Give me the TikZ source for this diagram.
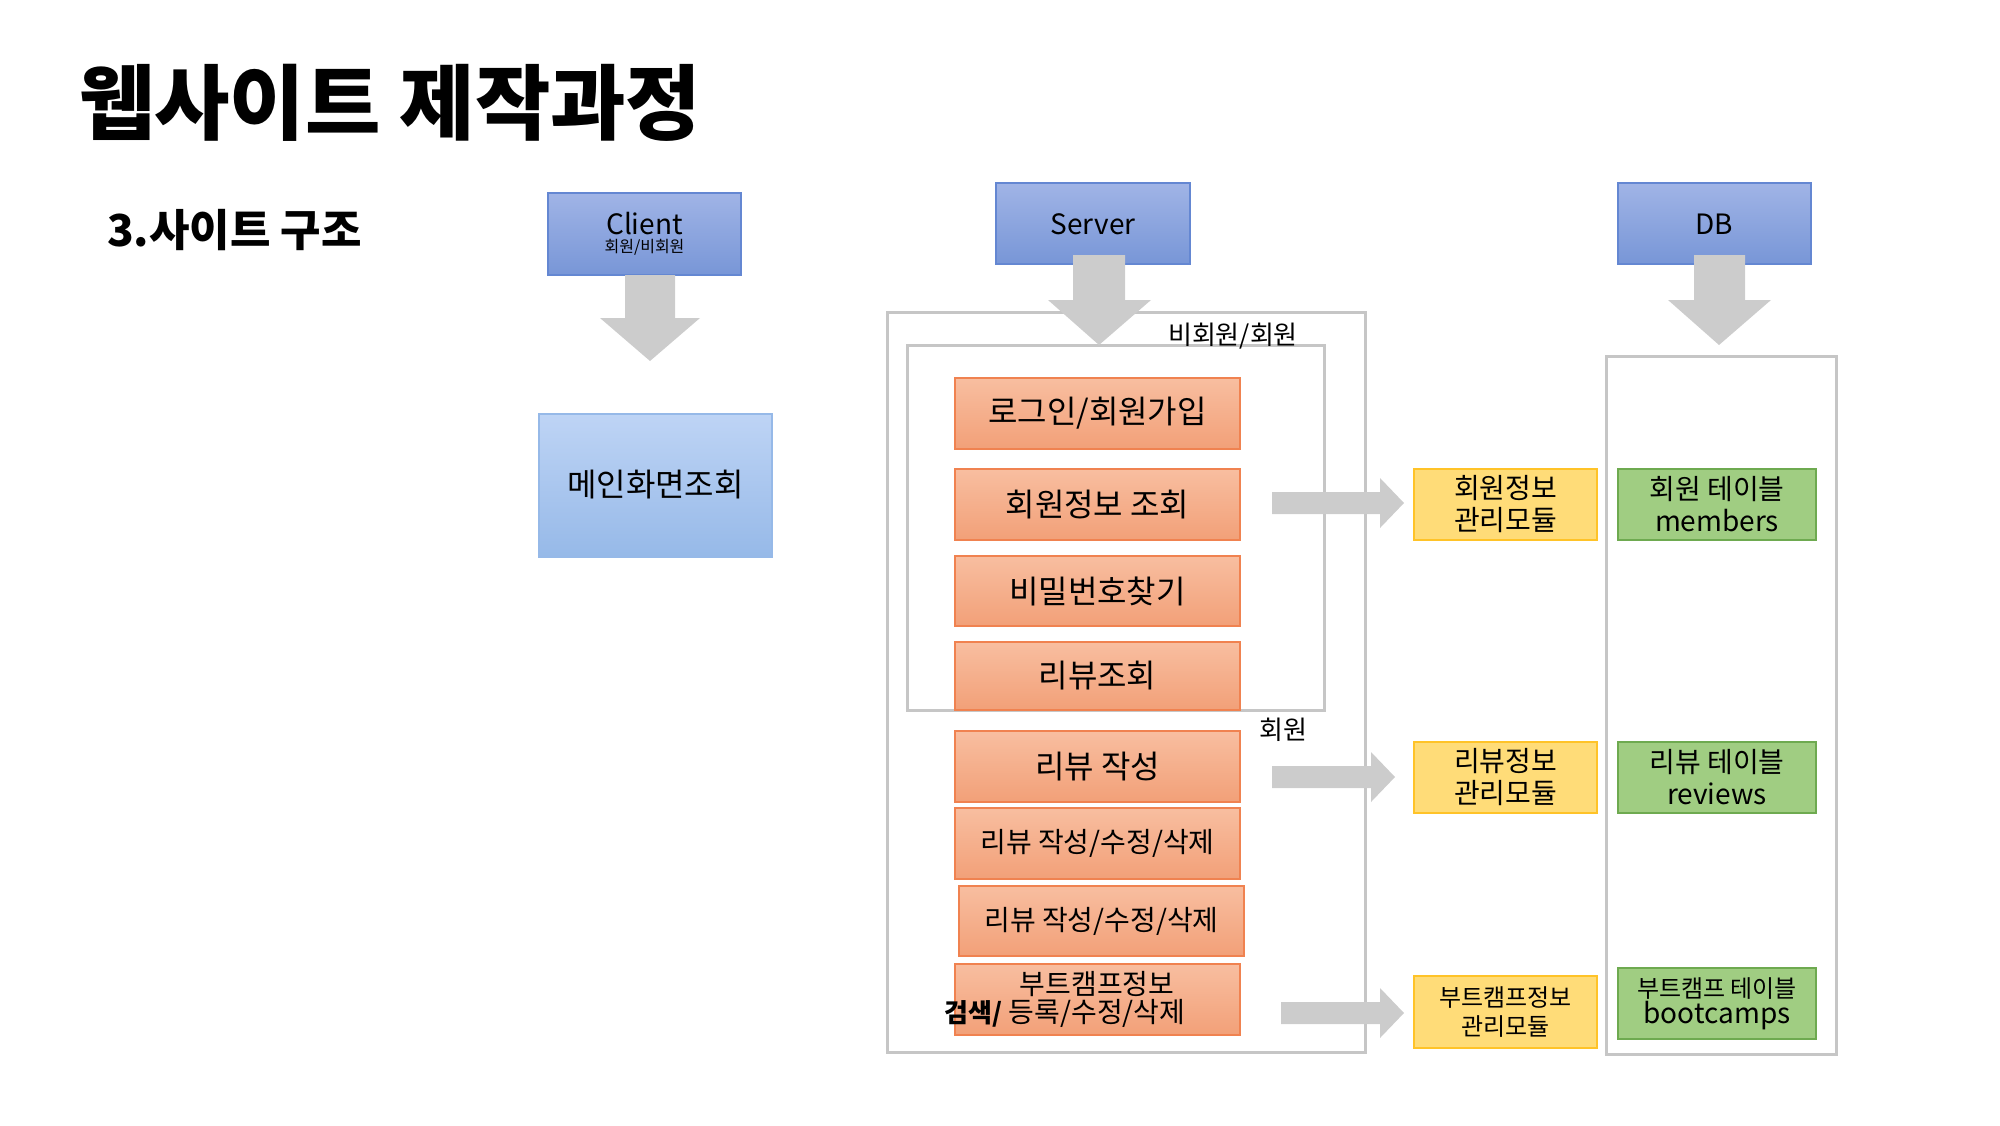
\documentclass[tikz,border=0pt]{standalone}
\usepackage{fontspec}
\setmainfont{Noto Sans CJK KR}
\definecolor{bl1}{RGB}{160,180,230}
\definecolor{bl2}{RGB}{120,150,215}
\definecolor{blb}{RGB}{100,135,210}
\definecolor{lb1}{RGB}{190,212,245}
\definecolor{lb2}{RGB}{150,185,232}
\definecolor{or1}{RGB}{248,190,160}
\definecolor{or2}{RGB}{242,160,120}
\definecolor{orb}{RGB}{240,130,80}
\definecolor{yf}{RGB}{255,220,120}
\definecolor{yb}{RGB}{255,195,40}
\definecolor{gf}{RGB}{160,205,130}
\definecolor{gb}{RGB}{110,170,80}
\begin{document}
\begin{tikzpicture}[x=0.5pt,y=-0.5pt,
 blue/.style={draw=blb,line width=1pt,top color=bl1,bottom color=bl2},
 ora/.style={draw=orb,line width=1pt,top color=or1,bottom color=or2},
 yel/.style={draw=yb,line width=1pt,fill=yf},
 grn/.style={draw=gb,line width=1pt,fill=gf},
 frame/.style={draw=gray!45,line width=1.5pt},
 barr/.style={fill=gray!40,draw=none}]
\useasboundingbox (0,0) rectangle (2000,1125);
\node[anchor=west,font=\fontsize{41}{44}\bfseries\selectfont] (title) at (72,103) {웹사이트 제작과정};
\node[anchor=west,font=\fontsize{22}{24}\bfseries\selectfont] (sub) at (100,230) {3.사이트 구조};
% Client
\draw[blue] (548,193) rectangle (741,275);
\node[align=center] (cltxt) at (644.5,234) {\fontsize{14}{15}\selectfont Client\\[-3pt]\fontsize{8}{9}\selectfont 회원/비회원};
\fill[barr] (625,275) -- (675,275) -- (675,318) -- (700,318) -- (650,361) -- (600,318) -- (625,318) -- cycle;
\draw[draw=lb2,line width=1pt,top color=lb1,bottom color=lb2] (539,414) rectangle (772,557);
\node[font=\fontsize{16}{18}\selectfont] (main) at (655.5,485) {메인화면조회};
% Server
\draw[frame] (887,312) rectangle (1365,1052);
\draw[frame] (907,345) rectangle (1324,710);
\draw[blue] (996,183) rectangle (1190,264);
\node[font=\fontsize{14}{16}\selectfont] (srv) at (1093,224) {Server};
\fill[barr] (1073,255) -- (1125,255) -- (1125,300) -- (1151,300) -- (1099,345) -- (1048,300) -- (1073,300) -- cycle;
\node[font=\fontsize{13}{14}\selectfont] (l1) at (1233,336) {비회원/회원};
\node[font=\fontsize{13}{14}\selectfont] (l2) at (1283,730) {회원};
\foreach \ya/\yb/\t/\xs [count=\i] in {378/449/{로그인/회원가입}/0,469/540/회원정보 조회/0,556/626/비밀번호찾기/0,642/710/리뷰조회/0,731/802/리뷰 작성/0,808/879/{\fontsize{14}{16}\selectfont 리뷰 작성/수정/삭제}/0,886/956/{\fontsize{14}{16}\selectfont 리뷰 작성/수정/삭제}/4}{
 \draw[ora] (955+\xs,\ya) rectangle (1240+\xs,\yb);
 \node[font=\fontsize{16}{18}\selectfont] (o\i) at (1097.5+\xs,{(\ya+\yb)/2}) {\t};
}
\draw[ora] (955,964) rectangle (1240,1035);
\node[align=center,font=\fontsize{14}{15}\selectfont] (o8) at (1097,999) {부트캠프정보\\[-1pt]\llap{\textbf{\fontsize{13}{15}\selectfont 검색/} }등록/수정/삭제};
% arrows right
\fill[barr] (1272,492) -- (1380,492) -- (1380,478) -- (1404,503) -- (1380,528) -- (1380,514) -- (1272,514) -- cycle;
\fill[barr] (1272,766) -- (1371,766) -- (1371,752) -- (1395,777) -- (1371,802) -- (1371,788) -- (1272,788) -- cycle;
\fill[barr] (1281,1002) -- (1380,1002) -- (1380,988) -- (1404,1013) -- (1380,1038) -- (1380,1024) -- (1281,1024) -- cycle;
% yellow
\draw[yel] (1414,469) rectangle (1597,540);
\node[align=center,font=\fontsize{14}{16}\selectfont] (y1) at (1505.5,504.5) {회원정보\\관리모듈};
\draw[yel] (1414,742) rectangle (1597,813);
\node[align=center,font=\fontsize{14}{16}\selectfont] (y2) at (1505.5,777.5) {리뷰정보\\관리모듈};
\draw[yel] (1414,976) rectangle (1597,1048);
\node[align=center,font=\fontsize{12}{14.5}\selectfont] (y3) at (1505.5,1012) {부트캠프정보\\관리모듈};
% DB
\draw[frame] (1606,356) rectangle (1836,1054);
\draw[blue] (1618,183) rectangle (1811,264);
\node[font=\fontsize{14}{16}\selectfont] (db) at (1714.5,224) {DB};
\fill[barr] (1694,255) -- (1745,255) -- (1745,300) -- (1771,300) -- (1719,345) -- (1668,300) -- (1694,300) -- cycle;
\draw[grn] (1618,469) rectangle (1816,540);
\node[align=center,font=\fontsize{14}{16}\selectfont] (g1) at (1717,504.5) {회원 테이블\\members};
\draw[grn] (1618,742) rectangle (1816,813);
\node[align=center,font=\fontsize{14}{16}\selectfont] (g2) at (1717,777.5) {리뷰 테이블\\reviews};
\draw[grn] (1618,968) rectangle (1816,1039);
\node[align=center] (g3) at (1717,1003.5) {\fontsize{12}{14}\selectfont 부트캠프 테이블\\\fontsize{14}{16}\selectfont bootcamps};
\end{tikzpicture}
\end{document}
